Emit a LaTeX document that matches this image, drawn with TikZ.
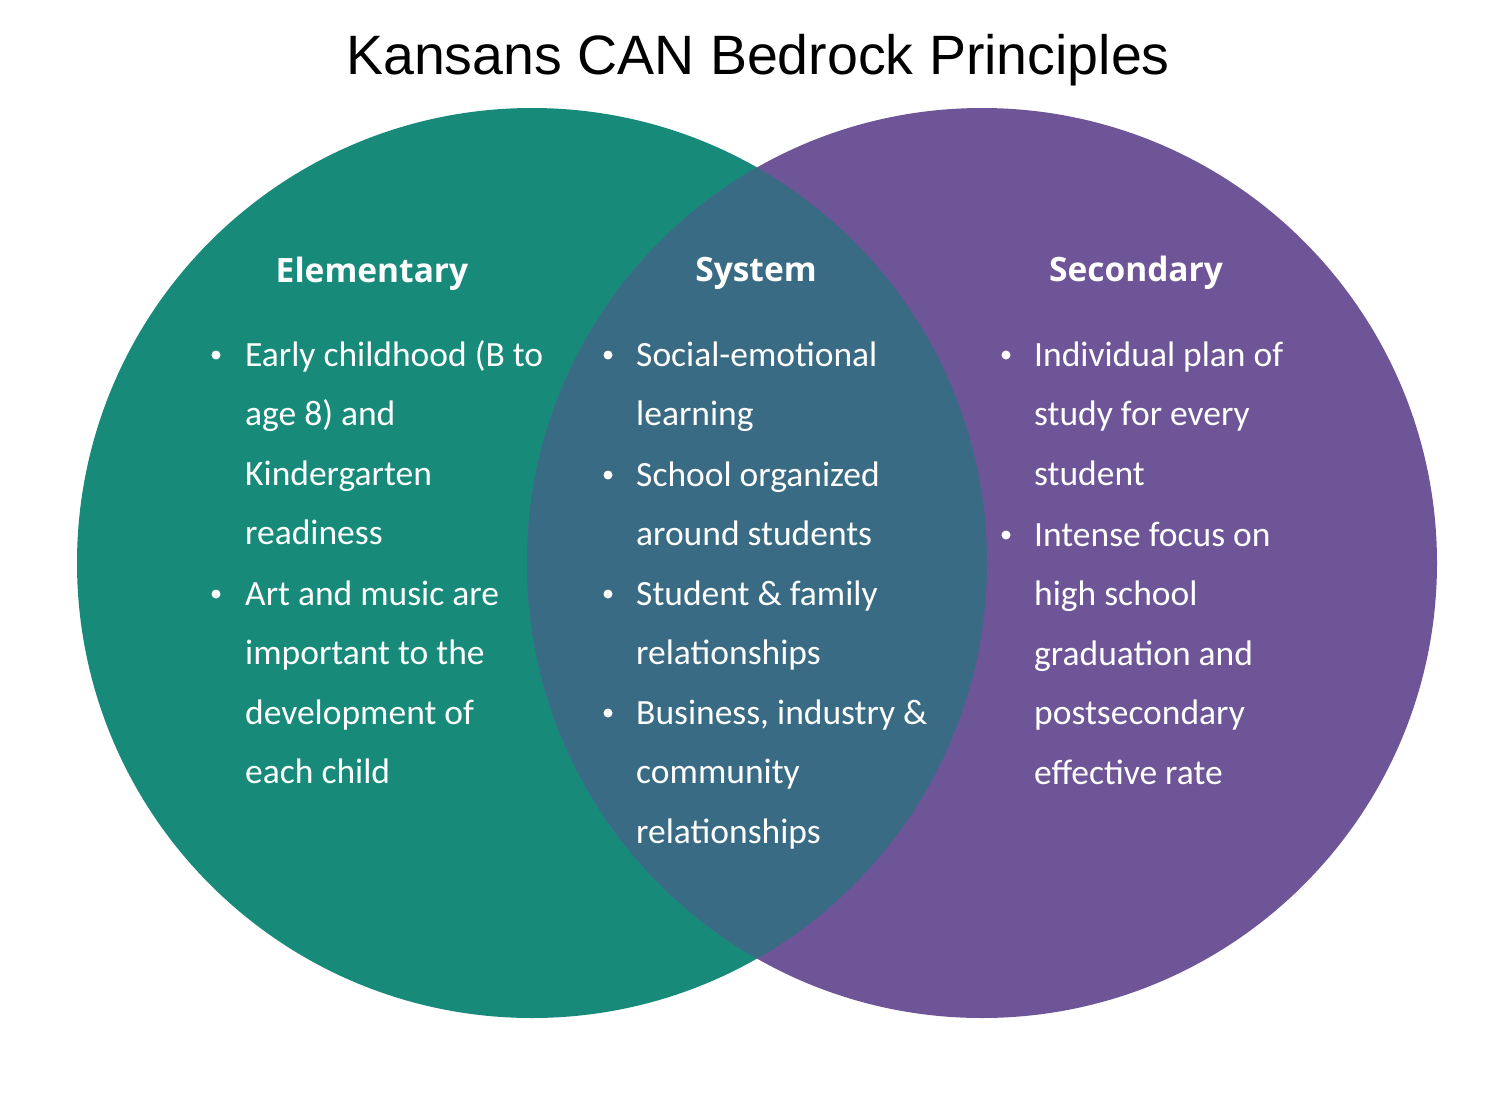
\documentclass[tikz,border=0pt]{standalone}
\usepackage{fontspec}
\setmainfont{Carlito}
\newfontfamily\titlefont{Liberation Sans}
\newfontfamily\headfont{Open Sans}
\definecolor{teal1}{HTML}{178A7A}
\definecolor{purp1}{HTML}{6E5597}
\definecolor{mid1}{HTML}{3A6B84}
\newcommand{\mylines}[1]{\begin{tabular}[t]{@{}l@{}}#1\end{tabular}}
\begin{document}
\begin{tikzpicture}[x=1pt,y=-1pt,
  body/.style={anchor=base west,inner sep=0pt,text=white,font=\fontsize{35.5}{59.5}\selectfont},
  head/.style={text=white,font=\headfont\bfseries\fontsize{33.5}{38}\selectfont},
  dot/.style={circle,fill=white,minimum size=9pt,inner sep=0pt}]
\useasboundingbox (0,0) rectangle (1490,1100);
\fill[white] (0,0) rectangle (1490,1100);
\fill[teal1] (532,563) circle (455);
\fill[purp1] (982,563) circle (455);
\begin{scope}
\clip (532,563) circle (455);
\fill[mid1] (982,563) circle (455);
\end{scope}
\node[font=\titlefont\fontsize{55.5}{62}\selectfont] (title) at (758,60) {Kansans CAN Bedrock Principles};
\node[head] (h1) at (372,274) {Elementary};
\node[head] (h2) at (756,273) {System};
\node[head] (h3) at (1136,273) {Secondary};
% left
\node[dot] (d1) at (216,355) {};
\node[body] (t1) at (245,366) {\mylines{Early childhood (B to\\age 8) and\\Kindergarten\\readiness}};
\node[dot] (d2) at (216,594) {};
\node[body] (t2) at (245,605) {\mylines{Art and music are\\important to the\\development of\\each child}};
% middle
\node[dot] (d3) at (608,355) {};
\node[body] (t3) at (636,366) {\mylines{Social-emotional\\learning}};
\node[dot] (d4) at (608,475) {};
\node[body] (t4) at (636,486) {\mylines{School organized\\around students}};
\node[dot] (d5) at (608,594) {};
\node[body] (t5) at (636,605) {\mylines{Student \& family\\relationships}};
\node[dot] (d6) at (608,713) {};
\node[body] (t6) at (636,724) {\mylines{Business, industry \&\\community\\relationships}};
% right
\node[dot] (d7) at (1006,355) {};
\node[body] (t7) at (1034,366) {\mylines{Individual plan of\\study for every\\student}};
\node[dot] (d8) at (1006,535) {};
\node[body] (t8) at (1034,546) {\mylines{Intense focus on\\high school\\graduation and\\postsecondary\\effective rate}};
\end{tikzpicture}
\end{document}
